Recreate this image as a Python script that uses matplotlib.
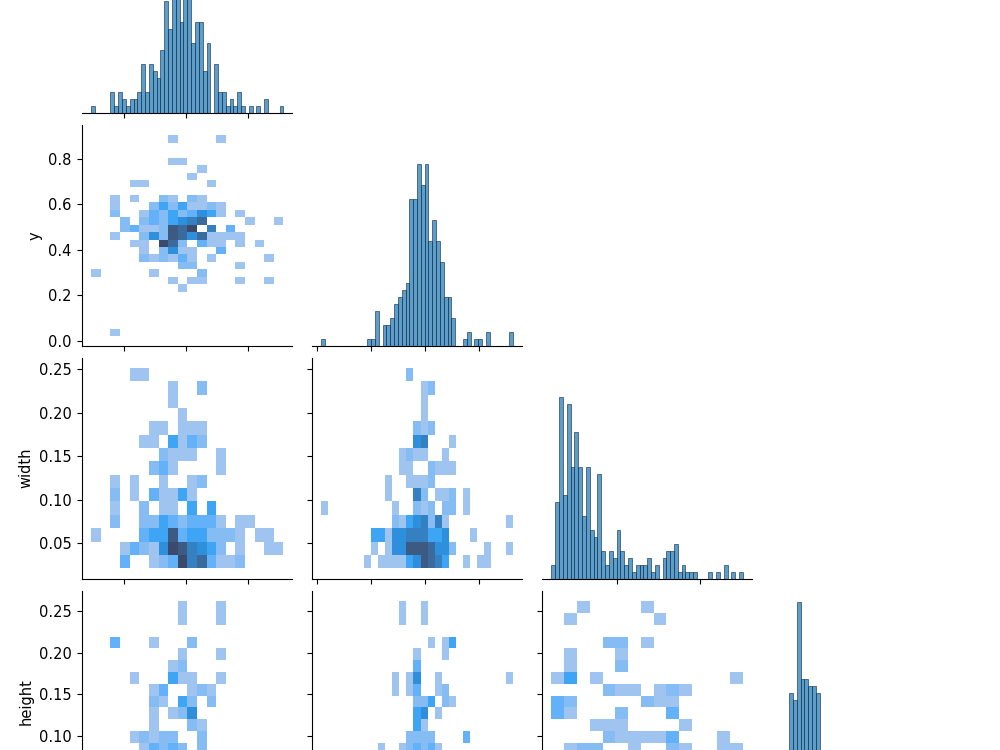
import numpy as np
import matplotlib
matplotlib.use("Agg")
import matplotlib.pyplot as plt
from matplotlib.colors import ListedColormap

plt.rcParams["font.size"] = 10.5

# bin ranges and axis limits
X_RANGE = (0.1157, 0.895)
Y_RANGE = (0.02, 0.904)
W_RANGE = (0.0209, 0.2518)
H_TOP = 0.262
H_CELL = 0.01421
H_BIN0 = 0.0304
H_BINW = 0.00489

X_LIM = (0.076, 0.93)
Y_LIM = (-0.0207, 0.949)
W_LIM = (0.0091, 0.2631)
H_LIM = (0.0085, 0.2745)
COUNT_MAX = 31.5

x_ticks = [0.25, 0.5, 0.75]
y_xticks = [0, 0.25, 0.5, 0.75]
y_yticks = [0.0, 0.2, 0.4, 0.6, 0.8]
w_xticks = [0.1, 0.2]
w_yticks = [0.05, 0.10, 0.15, 0.20, 0.25]
h_yticks = [0.10, 0.15, 0.20, 0.25]

# diagonal histograms, counts per bin
hist_x = [1, 0, 0, 0, 0, 3, 1, 3, 2, 1, 2, 2, 3, 7, 3, 7, 6, 5, 9, 16, 12, 18, 18, 13, 19,
          19, 10, 13, 13, 6, 10, 0, 7, 3, 3, 1, 2, 1, 3, 1, 0, 1, 0, 1, 0, 2, 0, 0, 0, 1]
hist_y = [1, 0, 0, 0, 0, 0, 0, 0, 0, 0, 0, 0, 1, 1, 5, 0, 3, 3, 4, 6, 7, 8, 9, 21, 21,
          26, 23, 26, 15, 18, 15, 12, 7, 7, 4, 0, 0, 1, 2, 0, 1, 1, 0, 2, 0, 0, 0, 0, 0, 2]
hist_w = [2, 11, 26, 12, 25, 16, 21, 16, 9, 16, 7, 6, 15, 4, 2, 4, 3, 7, 4, 2, 3, 1, 2, 2, 2,
          3, 1, 2, 0, 3, 4, 4, 5, 1, 2, 1, 1, 1, 0, 0, 0, 1, 0, 1, 0, 2, 0, 1, 0, 1]
hist_h = [17, 16, 30, 19, 19, 18, 18, 17]

# bivariate cells, top row first, digit = shade level
cells_y_x = [
    "00000000100001000000",
    "00000000000000000000",
    "00000000000000000000",
    "00000000110000000000",
    "00000000000100000000",
    "00000000001000000000",
    "00001100000010000000",
    "00000000000000000000",
    "00101002102100000000",
    "00100024241121000000",
    "00200132423541010000",
    "00020232456700001001",
    "00023112879060300000",
    "00100252875711110000",
    "00001109720311010100",
    "00000102511003000000",
    "00000212131010000010",
    "00000000022000010000",
    "10000010000200000000",
    "00000000101100010010",
    "00000000010000000000",
    "00000000000000000000",
    "00000000000000000000",
    "00000000000000000000",
    "00000000000000000000",
    "00000000000000000000",
    "00100000000000000000",
]
cells_w_x = [
    "00001100000000000000",
    "00000000100200000000",
    "00000000100000000000",
    "00000000010000000000",
    "00000011011100000000",
    "00000110413200000000",
    "00000002111001000000",
    "00000023100001000000",
    "00101001001200000000",
    "00201031141000000000",
    "00100201104040000000",
    "00200224323331011000",
    "10000344834422210110",
    "00013215986542010011",
    "00030012396731120000",
]
cells_w_y = [
    "00000 00000 00200 00000 00000 00",
    "00000 00000 00001 20000 00000 00",
    "00000 00000 00001 00000 00000 00",
    "00000 00000 00001 00000 00000 00",
    "00000 00000 00021 20000 00000 00",
    "00000 00000 00056 00010 00000 00",
    "00000 00000 01211 00100 00000 00",
    "00000 00000 01100 21110 00000 00",
    "00000 00001 00111 20000 00000 00",
    "00000 00001 00062 01120 10000 00",
    "10000 00000 10021 20220 10000 00",
    "00000 00000 21456 26100 00000 01",
    "00000 00441 55666 44500 01000 00",
    "00000 00101 55888 75520 00010 01",
    "00000 01011 11458 76400 10110 00",
]
cells_h_x = [
    "00000000010001000000",
    "00000000010001000000",
    "00000000000000000000",
    "00300010002000000000",
    "00000000010001000000",
    "00000000120000000000",
    "00001000411001000000",
    "00000013001210000000",
    "00000021042020000000",
    "00000010125000000000",
    "00000010002100000000",
    "00001212200200000000",
    "00000132320200000000",
]
cells_h_y = [
    "00000 00000 01001 00000 00000 00",
    "00000 00000 01001 00000 00000 00",
    "00000 00000 00000 00000 00000 00",
    "00000 00000 00000 10140 00000 00",
    "00000 00000 00010 00100 00000 00",
    "00000 00000 00030 00000 00000 00",
    "00000 00000 10150 01000 00000 01",
    "00000 00000 10130 01200 00000 00",
    "00000 00000 00022 40210 00000 00",
    "00000 00000 00045 01000 00000 00",
    "00000 00000 00041 00000 00000 00",
    "00000 00000 00222 20000 30000 00",
    "00000 00010 01232 31000 00000 00",
]
cells_h_w = [
    "001000010000000",
    "010000001000000",
    "000000000000000",
    "000022010000000",
    "010001000000000",
    "010002000000000",
    "140100000000001",
    "000021101210000",
    "320000021100000",
    "310002000300000",
    "000111000010000",
    "000021111300010",
    "012200100210011",
]

shades = ["#a0c4f0", "#86bcf4", "#63b1f8", "#3ea5f4", "#2e8fdc",
          "#3580c0", "#3b6b9c", "#3c5a82", "#3b4a6c"]
cmap = ListedColormap(shades)
cmap.set_bad((1, 1, 1, 0))

FIG_W, FIG_H = 1000, 750
COLS = [(81.5, 292), (311.7, 522), (541.7, 752.3), (771.7, 982)]
ROWS = [(-108, 112.7), (125, 345.7), (358, 578.5), (591, 811.5)]


def new_ax(fig, row, col):
    l, r = COLS[col]
    t, b = ROWS[row]
    ax = fig.add_axes([l / FIG_W, 1 - b / FIG_H, (r - l) / FIG_W, (b - t) / FIG_H])
    ax.spines[["top", "right"]].set_visible(False)
    return ax


def draw_hist(ax, counts, edges, lim):
    counts = np.array(counts)
    ax.bar(edges[:-1], counts, width=np.diff(edges), align="edge", color="#1f77b4",
           alpha=0.72, edgecolor="#12304a", linewidth=0.6)
    ax.set_xlim(lim)
    ax.set_ylim(0, COUNT_MAX)
    ax.set_yticks([])
    ax.spines["left"].set_visible(False)


def draw_cells(ax, rows, x_range, y_edges):
    vals = np.array([[int(c) for c in row.replace(" ", "")] for row in rows], dtype=float)
    vals = np.ma.masked_equal(vals, 0)
    x_edges = np.linspace(x_range[0], x_range[1], vals.shape[1] + 1)
    ax.pcolormesh(x_edges, y_edges, vals, cmap=cmap, vmin=0.5, vmax=9.5)


fig = plt.figure(figsize=(FIG_W / 100, FIG_H / 100), dpi=100)

# column 1
ax = new_ax(fig, 0, 0)
draw_hist(ax, hist_x, np.linspace(*X_RANGE, len(hist_x) + 1), X_LIM)
ax.set_xticks(x_ticks)
ax.set_xticklabels([])

y_edges = np.linspace(Y_RANGE[1], Y_RANGE[0], len(cells_y_x) + 1)
w_edges = np.linspace(W_RANGE[1], W_RANGE[0], len(cells_w_x) + 1)
h_edges = H_TOP - H_CELL * np.arange(len(cells_h_x) + 1)

ax = new_ax(fig, 1, 0)
draw_cells(ax, cells_y_x, X_RANGE, y_edges)
ax.set_xlim(X_LIM)
ax.set_ylim(Y_LIM)
ax.set_xticks(x_ticks)
ax.set_xticklabels([])
ax.set_yticks(y_yticks)
ax.set_ylabel("y", labelpad=4)

ax = new_ax(fig, 2, 0)
draw_cells(ax, cells_w_x, X_RANGE, w_edges)
ax.set_xlim(X_LIM)
ax.set_ylim(W_LIM)
ax.set_xticks(x_ticks)
ax.set_xticklabels([])
ax.set_yticks(w_yticks)
ax.set_ylabel("width", labelpad=4)

ax = new_ax(fig, 3, 0)
draw_cells(ax, cells_h_x, X_RANGE, h_edges)
ax.set_xlim(X_LIM)
ax.set_ylim(H_LIM)
ax.set_xticks(x_ticks)
ax.set_xticklabels([])
ax.set_yticks(h_yticks)
ax.set_ylabel("height", labelpad=4)

# column 2
ax = new_ax(fig, 1, 1)
draw_hist(ax, hist_y, np.linspace(*Y_RANGE, len(hist_y) + 1), (-0.0245, 0.947))
ax.set_xticks(y_xticks)
ax.set_xticklabels([])

ax = new_ax(fig, 2, 1)
draw_cells(ax, cells_w_y, Y_RANGE, w_edges)
ax.set_xlim(-0.0245, 0.947)
ax.set_ylim(W_LIM)
ax.set_xticks(y_xticks)
ax.set_xticklabels([])
ax.set_yticks(w_yticks)
ax.set_yticklabels([])

ax = new_ax(fig, 3, 1)
draw_cells(ax, cells_h_y, Y_RANGE, h_edges)
ax.set_xlim(-0.0245, 0.947)
ax.set_ylim(H_LIM)
ax.set_xticks(y_xticks)
ax.set_xticklabels([])
ax.set_yticks(h_yticks)
ax.set_yticklabels([])

# column 3
ax = new_ax(fig, 2, 2)
draw_hist(ax, hist_w, np.linspace(*W_RANGE, len(hist_w) + 1), W_LIM)
ax.set_xticks(w_xticks)
ax.set_xticklabels([])

ax = new_ax(fig, 3, 2)
draw_cells(ax, cells_h_w, W_RANGE, h_edges)
ax.set_xlim(W_LIM)
ax.set_ylim(H_LIM)
ax.set_xticks(w_xticks)
ax.set_xticklabels([])
ax.set_yticks(h_yticks)
ax.set_yticklabels([])

# column 4, only the tall bars reach into the picture
ax = new_ax(fig, 3, 3)
draw_hist(ax, hist_h, H_BIN0 + H_BINW * np.arange(len(hist_h) + 1), H_LIM)
ax.set_xticks([])

fig.savefig("out.png", dpi=100)
